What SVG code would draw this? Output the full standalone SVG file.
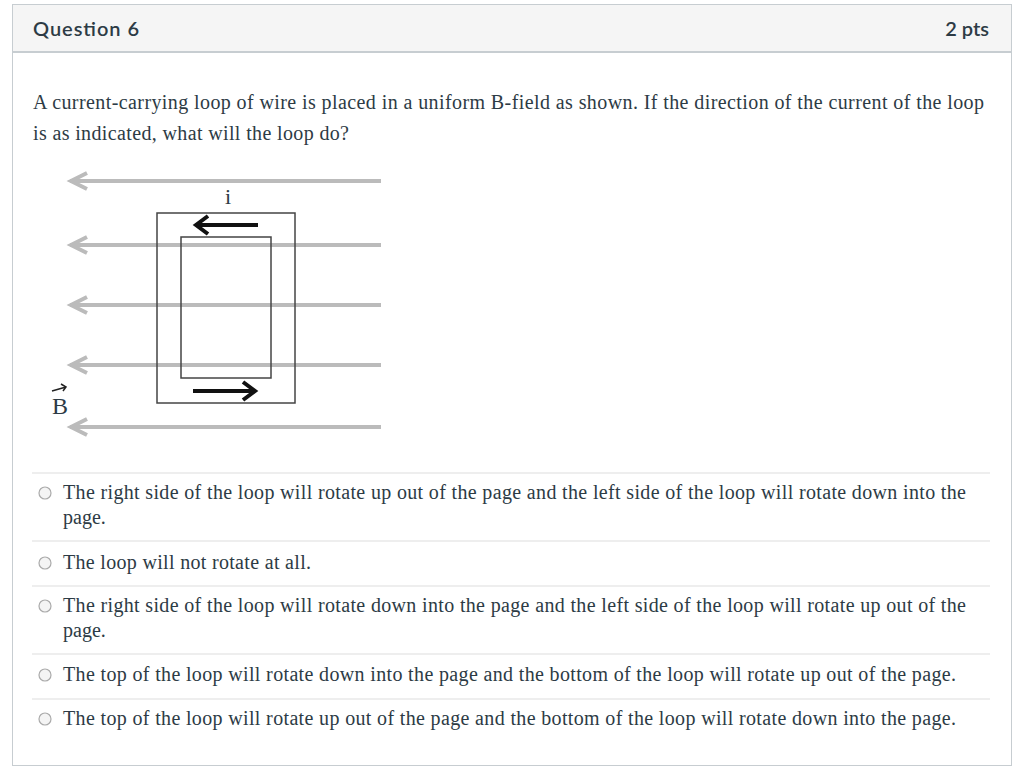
<svg xmlns="http://www.w3.org/2000/svg" width="1024" height="782" viewBox="0 0 1024 782">
<style>
.h{font-family:Lato,"Open Sans",sans-serif;font-size:20px;font-weight:600;fill:#2d3b45}
.t{font-family:"Liberation Serif",serif;font-size:20px;fill:#2d3b45}
.f{stroke:#bbb;stroke-width:4;fill:none}
.sep{stroke:#ddd;stroke-width:1}
.r{fill:#f4f4f4;stroke:#aaa;stroke-width:1.2}
</style>
<rect width="1024" height="782" fill="#fff"/>
<rect x="12.5" y="4.5" width="999" height="761" fill="#fff" stroke="#c7cdd1"/>
<rect x="13" y="5" width="998" height="47" fill="#f5f5f5"/>
<line x1="12" y1="52" x2="1012" y2="52" stroke="#c7cdd1" stroke-width="2"/>
<text class="h" x="33" y="36" textLength="106">Question 6</text>
<text class="h" x="989" y="36" text-anchor="end">2 pts</text>
<text class="t" x="33" y="109" textLength="951">A current-carrying loop of wire is placed in a uniform B-field as shown.  If the direction of the current of the loop</text>
<text class="t" x="33" y="140" textLength="316">is as indicated, what will the loop do?</text>
<g id="field">
<g class="f">
<path d="M70 181H381M87 173L71 181L87 189"/>
<path d="M70 245H381M87 237L71 245L87 253"/>
<path d="M70 305H381M87 297L71 305L87 313"/>
<path d="M70 365H381M87 357L71 365L87 373"/>
<path d="M70 427H381M87 419L71 427L87 435"/>
</g>
</g>
<g id="loop" fill="none" stroke="#444" stroke-width="1.5">
<rect x="157" y="213" width="138" height="190"/>
<rect x="181" y="237" width="90" height="141"/>
</g>
<g id="current" fill="none" stroke="#111" stroke-width="4">
<path d="M258 225H196M208 216L196 225L208 234"/>
<path d="M193 391H255M243 382L255 391L243 400"/>
</g>
<text class="t" x="228" y="204" text-anchor="middle" style="font-size:22px">i</text>
<text class="t" x="60" y="414" text-anchor="middle" style="font-size:24px">B</text>
<path d="M52 391L66 387M61 384L66 387L63 391" stroke="#222" stroke-width="1.5" fill="none"/>
<g id="options">
<line class="sep" x1="32" y1="473" x2="990" y2="473"/>
<line class="sep" x1="32" y1="541" x2="990" y2="541"/>
<line class="sep" x1="32" y1="586" x2="990" y2="586"/>
<line class="sep" x1="32" y1="654" x2="990" y2="654"/>
<line class="sep" x1="32" y1="699" x2="990" y2="699"/>
<circle class="r" cx="45" cy="493" r="6"/>
<circle class="r" cx="45" cy="563" r="6"/>
<circle class="r" cx="45" cy="606" r="6"/>
<circle class="r" cx="45" cy="675" r="6"/>
<circle class="r" cx="45" cy="719" r="6"/>
<text class="t" x="63" y="499" textLength="903">The right side of the loop will rotate up out of the page and the left side of the loop will rotate down into the</text>
<text class="t" x="63" y="524">page.</text>
<text class="t" x="63" y="569" textLength="248">The loop will not rotate at all.</text>
<text class="t" x="63" y="612" textLength="903">The right side of the loop will rotate down into the page and the left side of the loop will rotate up out of the</text>
<text class="t" x="63" y="637">page.</text>
<text class="t" x="63" y="681" textLength="893">The top of the loop will rotate down into the page and the bottom of the loop will rotate up out of the page.</text>
<text class="t" x="63" y="725" textLength="893">The top of the loop will rotate up out of the page and the bottom of the loop will rotate down into the page.</text>
</g>
</svg>
